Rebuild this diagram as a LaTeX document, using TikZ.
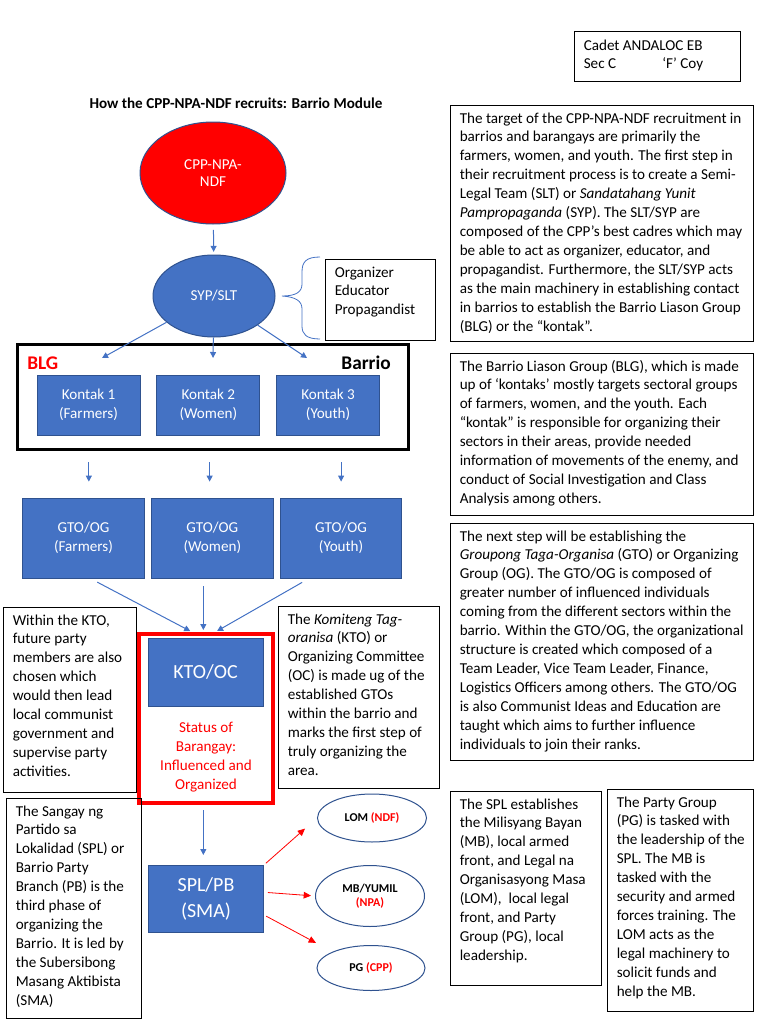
\documentclass[tikz,border=0pt]{standalone}
\usepackage{fontspec}
\setmainfont{Carlito}
\usepackage{xcolor}
\usepackage{tikz}
\usetikzlibrary{calc}
\usetikzlibrary{fit}
\usetikzlibrary{positioning}
\usetikzlibrary{arrows.meta}
\usetikzlibrary{shapes.geometric}
\definecolor{wordblue}{HTML}{4472C4}
\definecolor{wordedge}{HTML}{2F528F}
\definecolor{wordred}{HTML}{FF0000}
\tikzset{
  myarrow/.style={
    draw=wordblue,
    line width=0.75pt,
    -{Triangle[length=4.5pt,width=4.5pt]},
  },
  myredarrow/.style={
    draw=wordred,
    line width=0.6pt,
    -{Triangle[length=5.5pt,width=5pt]},
  },
  mybluebox/.style={
    draw=wordedge,
    fill=wordblue,
    line width=0.6pt,
    shape=rectangle,
    align=center,
    text=white,
    inner sep=0pt,
    font=\fontsize{11.35}{14.5}\selectfont
  },
  myellipse/.style={
    draw=wordedge,
    shape=ellipse,
    line width=0.75pt,
    align=center,
    inner sep=0pt,
  },
  myframe/.style={
    draw=black,
    line width=0.75pt,
    inner sep=0pt,
  },
  mytext/.style={
    anchor=north west,
    align=left,
    inner xsep=7.5pt,
    inner ysep=3.75pt,
    font=\fontsize{11.35}{14.2}\selectfont
  },
}

\begin{document}
\begin{tikzpicture}[x=0.75pt,y=-0.75pt]
    \useasboundingbox (0,0) rectangle (768,1024);

    % header and title
    \node[myframe, fit={(574,32) (740,82)}] (cadetbox) {};
    \node[mytext] (cadet) at (cadetbox.north west) {\strut Cadet ANDALOC EB\\\makebox[59pt][l]{Sec C}‘F’ Coy};
    \node[font=\bfseries\fontsize{11.35}{14}\selectfont] (title) at (236,103) {How the CPP-NPA-NDF recruits: Barrio Module};

    % top of the chart
    \node[myellipse, fill=wordred, text=white, minimum width=109.5pt, minimum height=76.5pt, font=\fontsize{11.35}{12.75}\selectfont] (cpp) at (213,173) {CPP-NPA-\\NDF};
    \node[myellipse, fill=wordblue, text=white, minimum width=91.5pt, minimum height=61.5pt, font=\fontsize{11.35}{13}\selectfont] (syp) at (214,296) {SYP/SLT};
    \draw[myarrow, shorten <=4pt, shorten >=2pt] (cpp) -- (syp);

    \draw[wordblue, line width=0.6pt] (320,257) .. controls (306,257) and (302,262) .. (302,272) -- (302,284) .. controls (302,292) and (296,296) .. (282,296) .. controls (296,297) and (302,301) .. (302,309) -- (302,326) .. controls (302,334) and (306,339) .. (320,339);
    \node[myframe, fit={(325,259) (435,340)}] (rolebox) {};
    \node[mytext] (roles) at (rolebox.north west) {\strut Organizer\\Educator\\Propagandist};

    % barrio liason group
    \node[myframe, line width=2.25pt, fit={(17,344) (408,449)}] (blgbox) {};
    \node[anchor=west, inner sep=0pt, text=wordred, font=\bfseries\fontsize{14.5}{16}\selectfont] (blg) at (27,363) {BLG};
    \node[anchor=east, inner sep=0pt, font=\bfseries\fontsize{14.5}{16}\selectfont] (barrio) at (391,363) {Barrio};

    \coordinate (blgleft) at (102,358);
    \coordinate (blgmid) at (213,358);
    \coordinate (blgright) at (307,358);
    \draw[myarrow] (syp) -- (blgleft);
    \draw[myarrow] (syp) -- (blgmid);
    \draw[myarrow] (syp) -- (blgright);

    \node[mybluebox, minimum width=77.25pt, minimum height=45pt] (kontak1) at (88.5,405) {Kontak 1\\(Farmers)};
    \node[mybluebox, minimum width=77.25pt, minimum height=45pt] (kontak2) [right=12pt of kontak1] {Kontak 2\\(Women)};
    \node[mybluebox, minimum width=77.25pt, minimum height=45pt] (kontak3) [right=12pt of kontak2] {Kontak 3\\(Youth)};

    % organizing groups
    \node[mybluebox, minimum width=91pt, minimum height=60pt] (gto1) at (83.5,538) {GTO/OG\\(Farmers)};
    \node[mybluebox, minimum width=91pt, minimum height=60pt] (gto2) [right=5pt of gto1] {GTO/OG\\(Women)};
    \node[mybluebox, minimum width=91pt, minimum height=60pt] (gto3) [right=5pt of gto2] {GTO/OG\\(Youth)};

    \draw[myarrow, shorten <=20pt, shorten >=12pt] ([xshift=4pt]gto1.north |- kontak1.south) -- ([xshift=4pt]gto1.north);
    \draw[myarrow, shorten <=20pt, shorten >=12pt] ([xshift=-2pt]gto2.north |- kontak2.south) -- ([xshift=-2pt]gto2.north);
    \draw[myarrow, shorten <=20pt, shorten >=12pt] (gto3.north |- kontak3.south) -- (gto3.north);

    % organizing committee
    \node[myframe, draw=wordred, line width=3pt, fit={(139,634) (273,803)}] (redbox) {};
    \node[mybluebox, minimum width=86.25pt, minimum height=51pt, font=\fontsize{15}{18}\selectfont] (kto) at (205.5,672) {KTO/OC};
    \node[text=wordred, align=center, font=\fontsize{11.35}{14.2}\selectfont] (status) at (206,757) {Status of\\Barangay:\\Influenced and\\Organized};

    \draw[myarrow, shorten <=6pt, shorten >=1.5pt] ([xshift=5pt]gto1.south) -- ([xshift=-10.5pt]redbox.north);
    \draw[myarrow, shorten <=6pt, shorten >=1.5pt] ([xshift=-2pt]redbox.north |- gto2.south) -- ([xshift=-2pt]redbox.north);
    \draw[myarrow, shorten <=6pt, shorten >=1.5pt] ([xshift=-24pt]gto3.south) -- ([xshift=7pt]redbox.north);

    \node[myframe, fit={(3,607) (136,792)}] (withinbox) {};
    \node[mytext] (within) at (withinbox.north west) {\strut Within the KTO,\\future party\\members are also\\chosen which\\would then lead\\local communist\\government and\\supervise party\\activities.};
    \node[myframe, fit={(278,606) (439,788)}] (komitebox) {};
    \node[mytext] (komite) at (komitebox.north west) {\strut The \textit{Komiteng Tag-}\\\textit{oranisa} (KTO) or\\Organizing Committee\\(OC) is made ug of the\\established GTOs\\within the barrio and\\marks the first step of\\truly organizing the\\area.};

    % party branch
    \node[mybluebox, minimum width=86.25pt, minimum height=50.25pt, font=\fontsize{15}{19.5}\selectfont] (spl) [below=45pt of redbox] {SPL/PB\\(SMA)};
    \draw[myarrow, shorten <=4pt, shorten >=7.5pt] ([xshift=-2pt]redbox.south) -- ([xshift=-2pt]spl.north);

    \node[myellipse, fill=white, minimum width=81.75pt, minimum height=36pt, font=\bfseries\fontsize{9}{10.5}\selectfont] (lom) at (372,818) {LOM \textcolor{wordred}{(NDF)}};
    \node[myellipse, fill=white, minimum width=81.75pt, minimum height=45.75pt, font=\bfseries\fontsize{9}{10.5}\selectfont] (mb) at (370,896) {MB/YUMIL\\\textcolor{wordred}{(NPA)}};
    \node[myellipse, fill=white, minimum width=81pt, minimum height=33.75pt, font=\bfseries\fontsize{9}{10.5}\selectfont] (pg) at (371,968) {PG \textcolor{wordred}{(CPP)}};

    \draw[myredarrow, shorten <=2pt, shorten >=12pt] (spl.north east) -- (lom.west);
    \draw[myredarrow, shorten <=3pt, shorten >=3pt] ([yshift=5pt]spl.east) -- (mb.west);
    \draw[myredarrow, shorten <=2pt, shorten >=14pt] ([yshift=-12pt]spl.east) -- (pg.north west);

    \node[myframe, fit={(6,798) (141,1018)}] (sangaybox) {};
    \node[mytext] (sangay) at (sangaybox.north west) {\strut The Sangay ng\\Partido sa\\Lokalidad (SPL) or\\Barrio Party\\Branch (PB) is the\\third phase of\\organizing the\\Barrio. It is led by\\the Subersibong\\Masang Aktibista\\(SMA)};

    % descriptions on the right
    \node[myframe, fit={(450,105) (753,341)}] (targetbox) {};
    \node[mytext] (target) at (targetbox.north west) {\strut The target of the CPP-NPA-NDF recruitment in\\barrios and barangays are primarily the\\farmers, women, and youth. The first step in\\their recruitment process is to create a Semi-\\Legal Team (SLT) or \textit{Sandatahang Yunit}\\\textit{Pampropaganda} (SYP). The SLT/SYP are\\composed of the CPP’s best cadres which may\\be able to act as organizer, educator, and\\propagandist. Furthermore, the SLT/SYP acts\\as the main machinery in establishing contact\\in barrios to establish the Barrio Liason Group\\(BLG) or the “kontak”.};
    \node[myframe, fit={(450,353) (753,515)}] (sectorbox) {};
    \node[mytext] (sector) at (sectorbox.north west) {\strut The Barrio Liason Group (BLG), which is made\\up of ‘kontaks’ mostly targets sectoral groups\\of farmers, women, and the youth. Each\\“kontak” is responsible for organizing their\\sectors in their areas, provide needed\\information of movements of the enemy, and\\conduct of Social Investigation and Class\\Analysis among others.};
    \node[myframe, fit={(450,523) (753,760)}] (gtobox) {};
    \node[mytext] (gtotext) at (gtobox.north west) {\strut The next step will be establishing the\\\textit{Groupong Taga-Organisa} (GTO) or Organizing\\Group (OG). The GTO/OG is composed of\\greater number of influenced individuals\\coming from the different sectors within the\\barrio. Within the GTO/OG, the organizational\\structure is created which composed of a\\Team Leader, Vice Team Leader, Finance,\\Logistics Officers among others. The GTO/OG\\is also Communist Ideas and Education are\\taught which aims to further influence\\individuals to join their ranks.};
    \node[myframe, fit={(450,791) (601,985)}] (splbox) {};
    \node[mytext] (spltext) at (splbox.north west) {\strut The SPL establishes\\the Milisyang Bayan\\(MB), local armed\\front, and Legal na\\Organisasyong Masa\\(LOM),\ \ local legal\\front, and Party\\Group (PG), local\\leadership.};
    \node[myframe, fit={(607,789) (753,1011)}] (pgbox) {};
    \node[mytext] (pgtext) at (pgbox.north west) {\strut The Party Group\\(PG) is tasked with\\the leadership of the\\SPL. The MB is\\tasked with the\\security and armed\\forces training. The\\LOM acts as the\\legal machinery to\\solicit funds and\\help the MB.};
  \end{tikzpicture}
\end{document}
